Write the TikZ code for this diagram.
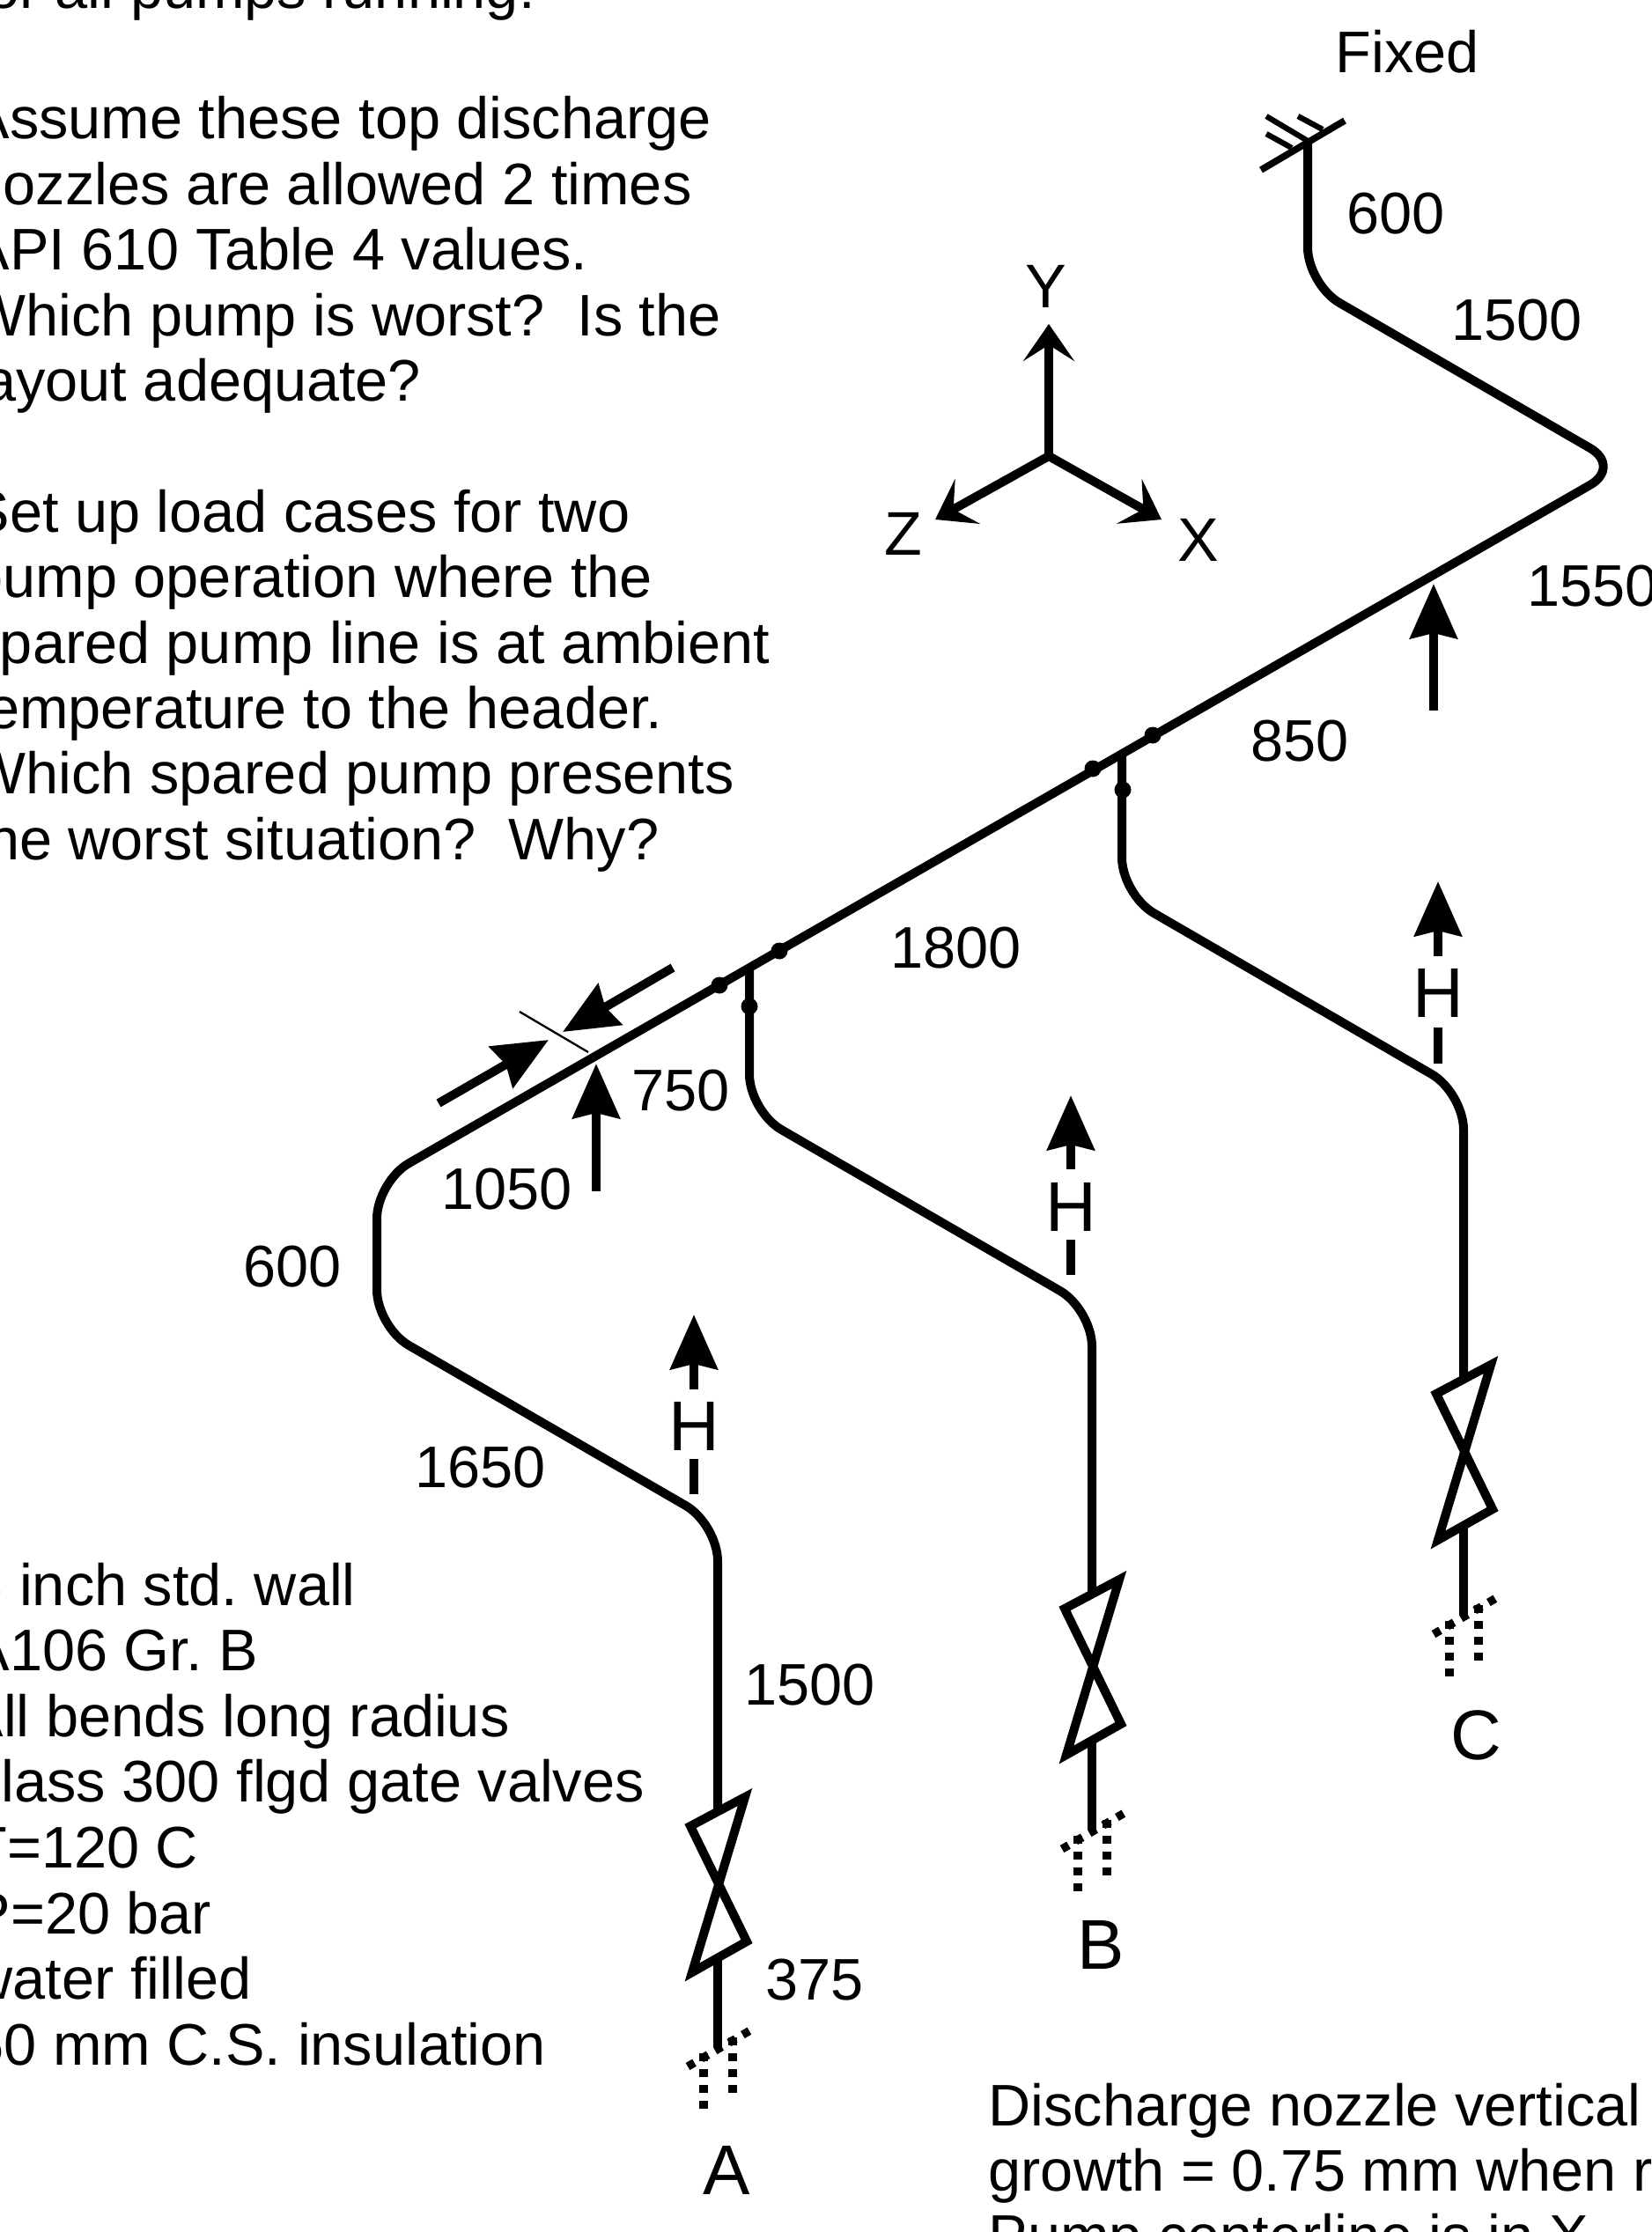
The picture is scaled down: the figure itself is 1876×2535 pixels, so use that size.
\documentclass[tikz,border=0pt]{standalone}
\usepackage{fontspec}
\setmainfont{Liberation Sans}
\usetikzlibrary{arrows.meta}
\frenchspacing
\tikzstyle{pipe} = [line width=3pt, rounded corners=12.6pt]
\tikzstyle{bar} = [line width=3pt]
\tikzstyle{dots} = [line width=2.8pt, dash pattern=on 2.6pt off 2.8pt]
\tikzstyle{load} = [line width=3pt, -{Stealth[length=18.6pt,width=16pt,inset=1.8pt]}]
\tikzstyle{axis} = [line width=3pt, -{Stealth[length=12.6pt,width=17.4pt,inset=5.5pt]}]
\tikzstyle{note} = [anchor=base west, inner sep=0pt, font=\fontsize{20}{22}\selectfont]
\tikzstyle{letter} = [anchor=base, inner sep=0pt, font=\fontsize{24}{26}\selectfont]
\tikzstyle{dot} = [circle, fill, inner sep=0pt, minimum size=5.7pt]
% valve and stub of one pump: name, x, y of the valve centre
\newcommand{\pumpvalve}[3]{
	\begin{scope}[shift={(#2,#3)}]
		\draw[bar, line join=miter] (31,-101) -- (-29,98) -- (33,63) -- (-31,-68) -- cycle;
		\coordinate (#1in) at (0,-84);
		\coordinate (#1out) at (0,80);
		\coordinate (#1end) at (0,183);
		\draw[bar] (#1out) -- (#1end);
		\coordinate (#1g) at (-34,205);
		\coordinate (#1h) at (37,164);
		\draw[dots] (#1g) -- (#1h);
		\draw[dots] (-16,190) -- (-16,256);
		\draw[dots] (17,172) -- (17,238);
	\end{scope}
}
\begin{document}
\begin{tikzpicture}[x=0.3pt,y=-0.3pt]
	\path[use as bounding box,clip] (0,0) rectangle (1876,2535);
	% text blocks
	\foreach \i/\txt in {0/for all pumps running:,2/Assume these top discharge,3/nozzles are allowed 2 times,
		4/API 610 Table 4 values.,5/Which pump is worst?~ Is the,6/layout adequate?,
		8/Set up load cases for two,9/pump operation where the,10/spared pump line is at ambient,
		11/temperature to the header.,12/Which spared pump presents,13/the worst situation?~ Why?}
		\node[note] (task\i) at (-34,{9+74.4*\i}) {\txt};
	\foreach \i/\dx/\txt in {0/2/6 inch std. wall,1/2/A106 Gr. B,2/-5/All bends long radius,3/-11/Class 300 flgd gate valves,
		4/3/T=120 C,5/3/P=20 bar,6/2/water filled,7/3/50 mm C.S. insulation}
		\node[note] (data\i) at ({-36+\dx},{1823+74.6*\i}) {\txt};
	\foreach \i/\txt in {0/Discharge nozzle vertical,1/growth = 0.75 mm when running,2/Pump centerline is in X}
		\node[note] (nozl\i) at (1122,{2414+74.4*\i}) {\txt};
	% main line
	\coordinate (fix) at (1485,160);
	\coordinate (topb) at (1485,323);
	\coordinate (apex) at (1842,530);
	\coordinate (lefta) at (428,1342);
	\coordinate (leftb) at (428,1507);
	\coordinate (dropa) at (815,1731);
	\coordinate (teeb) at (851,1100);
	\coordinate (bendb) at (851,1262);
	\coordinate (dropb) at (1240,1487);
	\coordinate (teec) at (1274,856);
	\coordinate (bendc) at (1274,1016);
	\coordinate (dropc) at (1662,1241);
	\pumpvalve{a}{815}{2142}
	\pumpvalve{b}{1240}{1895}
	\pumpvalve{c}{1662}{1651}
	\draw[pipe] (fix) -- (topb) -- (apex) -- (lefta) -- (leftb) -- (dropa) -- (ain);
	\draw[pipe] (teeb) -- (bendb) -- (dropb) -- (bin);
	\draw[pipe] (teec) -- (bendc) -- (dropc) -- (cin);
	% fixed end
	\coordinate (fixl) at (1432,193);
	\coordinate (fixr) at (1527,137);
	\draw[line width=2.3pt] (fixl) -- (fixr);
	\draw[line width=1.9pt] (1438,132) -- (fix);
	\draw[line width=1.9pt] (1438,152) -- (1467,168);
	\draw[line width=1.9pt] (1474,132) -- (1502,147);
	% weld dots
	\node[dot] (da) at (817,1119) {};
	\node[dot] (db) at (885,1080) {};
	\node[dot] (dc) at (851,1143) {};
	\node[dot] (dd) at (1241,873) {};
	\node[dot] (de) at (1309,835) {};
	\node[dot] (df) at (1275,897) {};
	% axes
	\coordinate (org) at (1191,518);
	\coordinate (ay) at (1191,368);
	\coordinate (ax) at (1319,590);
	\coordinate (az) at (1062,590);
	\draw[axis] (org) -- (ay);
	\draw[axis] (org) -- (ax);
	\draw[axis] (org) -- (az);
	\node[letter,font=\fontsize{21}{24}\selectfont] (ly) at (1188,349) {Y};
	\node[letter,font=\fontsize{21}{24}\selectfont] (lx) at (1361,637) {X};
	\node[letter,font=\fontsize{21}{24}\selectfont] (lz) at (1026,630) {Z};
	% loads
	\draw[load] (1628,807) -- (1628,663);
	\draw[load] (677,1353) -- (677,1208);
	\draw[load] (498,1253) -- (623,1181);
	\draw[load] (764,1099) -- (639,1172);
	\draw[line width=0.7pt] (590,1149) -- (668,1195);
	% H symbols
	\draw[load] (788,1578) -- (788,1493);
	\node[letter] (ha) at (788,1647) {H};
	\draw[bar] (788,1657) -- (788,1697);
	\draw[load] (1216,1328) -- (1216,1244);
	\node[letter] (hb) at (1216,1398) {H};
	\draw[bar] (1216,1408) -- (1216,1448);
	\draw[load] (1633,1086) -- (1633,1001);
	\node[letter] (hc) at (1633,1155) {H};
	\draw[bar] (1633,1167) -- (1633,1208);
	% labels
	\node[note] (fixed) at (1516,82) {Fixed};
	\node[note] (l600a) at (1529,265) {600};
	\node[note] (l1500a) at (1648,386) {1500};
	\node[note] (l1550) at (1734,688) {1550};
	\node[note] (l850) at (1420,864) {850};
	\node[note] (l1800) at (1011,1099) {1800};
	\node[note] (l750) at (717,1261) {750};
	\node[note] (l1050) at (501,1373) {1050};
	\node[note] (l600b) at (276,1461) {600};
	\node[note] (l1650) at (471,1689) {1650};
	\node[note] (l1500b) at (845,1936) {1500};
	\node[note] (l375) at (869,2271) {375};
	\node[letter] (pa) at (825,2492) {A};
	\node[letter] (pb) at (1250,2236) {B};
	\node[letter] (pc) at (1676,1998) {C};
\end{tikzpicture}
\end{document}
